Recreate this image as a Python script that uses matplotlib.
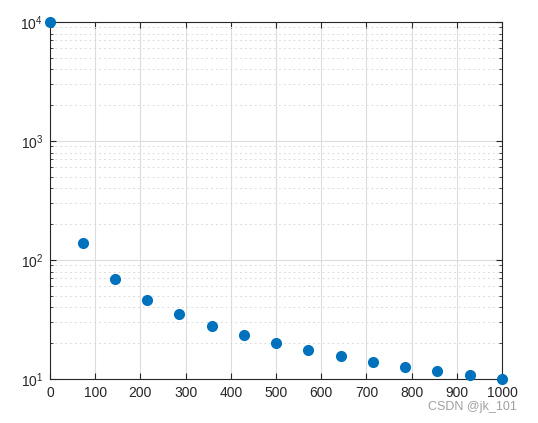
import numpy as np
import matplotlib.pyplot as plt

x = [1, 72.4, 143.7, 215.1, 286.4, 357.8, 429.1, 500.5, 571.9, 643.2, 714.6, 785.9, 857.3, 928.6, 1000]
y = [10000, 138.1, 69.6, 46.5, 34.9, 27.9, 23.3, 20.0, 17.5, 15.5, 14.0, 12.7, 11.7, 10.8, 10.0]
xticks = [0, 100, 200, 300, 400, 500, 600, 700, 800, 900, 1000]

plt.rcParams['font.family'] = ['Liberation Sans', 'DejaVu Sans']

fig = plt.figure(figsize=(5.38, 4.23), dpi=100)
ax = fig.add_axes([50/538, 1-379/423, 452/538, 357/423])

ax.semilogy(x, y, 'o', color='#0072BD', markersize=7, clip_on=False, zorder=5)
ax.set_xlim(0, 1000)
ax.set_ylim(10, 10000)
ax.set_xticks(xticks)

ax.grid(True, which='major', color='#dcdcdc', linewidth=0.8)
ax.grid(True, which='minor', axis='y', color='#dcdcdc', linestyle=(0, (2, 3)), linewidth=0.7)
ax.set_axisbelow(True)

ax.tick_params(which='both', direction='in', top=True, right=True, labelsize=10, colors='#262626')
ax.tick_params(which='major', length=4, pad=5)
ax.tick_params(which='minor', length=2)
for s in ax.spines.values():
    s.set_color('#262626')
    s.set_linewidth(0.8)

fig.text(472/538, 1-407/423, 'CSDN @jk_101', ha='center', va='center', fontsize=9, color='#a0a0a0')

fig.savefig('out.png', dpi=100)
